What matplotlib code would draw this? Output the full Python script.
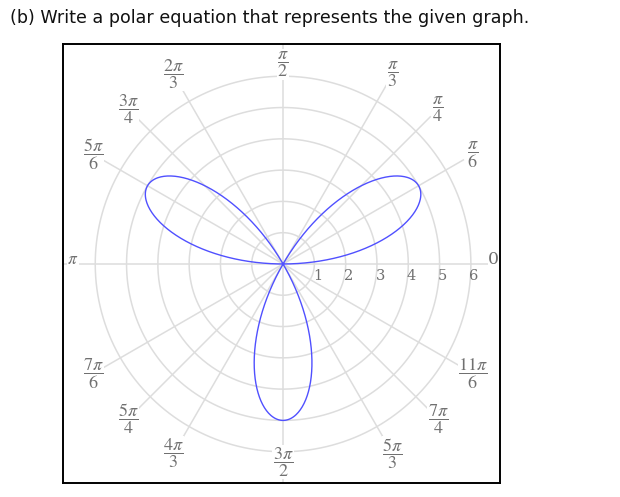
import numpy as np
import matplotlib.pyplot as plt

# Rose curve r = a*sin(n*theta)
amplitude = 5
petals = 3

# Grid
ring_radii = [1, 2, 3, 4, 5, 6]
radial_labels = ['1', '2', '3', '4', '5', '6']
angle_num = [0, 1, 1, 1, 1, 2, 3, 5, 1, 7, 5, 4, 3, 5, 7, 11]
angle_den = [1, 6, 4, 3, 2, 3, 4, 6, 1, 6, 4, 3, 2, 3, 4, 6]
angle_labels = ['0', r'$\dfrac{\pi}{6}$', r'$\dfrac{\pi}{4}$', r'$\dfrac{\pi}{3}$',
                r'$\dfrac{\pi}{2}$', r'$\dfrac{2\pi}{3}$', r'$\dfrac{3\pi}{4}$',
                r'$\dfrac{5\pi}{6}$', r'$\pi$', r'$\dfrac{7\pi}{6}$', r'$\dfrac{5\pi}{4}$',
                r'$\dfrac{4\pi}{3}$', r'$\dfrac{3\pi}{2}$', r'$\dfrac{5\pi}{3}$',
                r'$\dfrac{7\pi}{4}$', r'$\dfrac{11\pi}{6}$']

plt.rcParams['mathtext.fontset'] = 'stix'

fig = plt.figure(figsize=(6.2, 4.97), dpi=100)
fig.text(10 / 620, 1 - 18 / 497, '(b) Write a polar equation that represents the given graph.',
         fontsize=12.6, family='DejaVu Sans', va='center', ha='left', color='#111111')

ax = fig.add_axes([63 / 620, 14 / 497, 437 / 620, 439 / 497])
ax.set_xlim(-7.03, 6.93)
ax.set_ylim(-7.0, 7.03)
ax.set_xticks([])
ax.set_yticks([])
for s in ax.spines.values():
    s.set_linewidth(1.4)
    s.set_color('black')

grid_c = '#dddddd'
t = np.linspace(0, 2 * np.pi, 400)
for r in ring_radii:
    ax.plot(r * np.cos(t), r * np.sin(t), color=grid_c, lw=1.1, zorder=1)

ax.axhline(0, color=grid_c, lw=1.1, zorder=1)
ax.axvline(0, color=grid_c, lw=1.1, zorder=1)

lab_c = '#707070'
for num, den, lab in zip(angle_num, angle_den, angle_labels):
    a = np.pi * num / den
    if den > 2:
        ax.plot([0, 6.65 * np.cos(a)], [0, 6.65 * np.sin(a)], color=grid_c, lw=1.1, zorder=1)
        rl = 7.0
    elif den == 1:
        rl = 6.72
    elif num == 1:
        rl = 6.38
    else:
        rl = 6.33
    fs = 12.5 if den == 1 else 13
    ax.text(rl * np.cos(a), rl * np.sin(a) + (0.13 if den == 1 else 0), lab,
            ha='center', va='center', fontsize=fs, color=lab_c, family='serif',
            bbox=dict(facecolor='white', edgecolor='none', pad=0.3), zorder=3)

for r, lab in zip(ring_radii, radial_labels):
    ax.text(r + 0.1, -0.38, lab, ha='center', va='center', fontsize=10.5,
            color=lab_c, family='serif', zorder=3)

th = np.linspace(0, np.pi, 600)
rr = amplitude * np.sin(petals * th)
ax.plot(rr * np.cos(th), rr * np.sin(th), color='#5050ff', lw=1.0, zorder=2)

fig.savefig('out.png', dpi=100)
